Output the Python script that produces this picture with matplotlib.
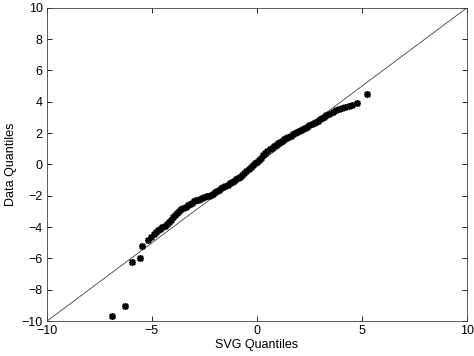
import numpy as np
import matplotlib
matplotlib.use("Agg")
from matplotlib import pyplot as plt

# quantile pairs (theoretical SVG quantiles vs data quantiles)
svg_q = [-6.90, -6.27, -5.94, -5.56, -5.45, -5.20, -5.05, -4.90, -4.80, -4.70,
         -4.60, -4.50, -4.40, -4.30, -4.20, -4.10,
         -4.0, -3.9, -3.8, -3.7, -3.6, -3.5, -3.4, -3.3, -3.2, -3.1,
         -3.0, -2.9, -2.8, -2.7, -2.6, -2.5, -2.4, -2.3, -2.2, -2.1,
         -2.0, -1.9, -1.8, -1.7, -1.6, -1.5, -1.4, -1.3, -1.2, -1.1,
         -1.0, -0.9, -0.8, -0.7, -0.6, -0.5, -0.4, -0.3, -0.2, -0.1,
         0.0, 0.1, 0.2, 0.3, 0.4, 0.5, 0.6, 0.7, 0.8, 0.9,
         1.0, 1.1, 1.2, 1.3, 1.4, 1.5, 1.6, 1.7, 1.8, 1.9,
         2.0, 2.1, 2.2, 2.3, 2.4, 2.5, 2.6, 2.7, 2.8, 2.9,
         3.0, 3.1, 3.2, 3.3,
         3.45, 3.60, 3.75, 3.90, 4.05, 4.20, 4.40, 4.55, 4.75, 5.22]

data_q = [-9.68, -9.06, -6.20, -5.97, -5.20, -4.85, -4.65, -4.45, -4.30, -4.20,
          -4.10, -4.00, -3.90, -3.80, -3.68, -3.52,
          -3.38, -3.24, -3.10, -2.95, -2.85, -2.77, -2.69, -2.61, -2.52, -2.43,
          -2.36, -2.30, -2.24, -2.19, -2.14, -2.09, -2.04, -1.99, -1.93, -1.86,
          -1.78, -1.70, -1.62, -1.53, -1.44, -1.36, -1.28, -1.19, -1.11, -1.03,
          -0.95, -0.86, -0.77, -0.65, -0.53, -0.40, -0.27, -0.15, -0.03, 0.08,
          0.18, 0.31, 0.44, 0.58, 0.72, 0.86, 0.97, 1.07, 1.16, 1.26,
          1.35, 1.44, 1.53, 1.61, 1.69, 1.77, 1.84, 1.92, 1.99, 2.07,
          2.15, 2.22, 2.29, 2.36, 2.42, 2.49, 2.56, 2.63, 2.71, 2.79,
          2.88, 2.97, 3.06, 3.14,
          3.25, 3.33, 3.45, 3.52, 3.60, 3.68, 3.74, 3.82, 3.91, 4.52]

ref_line = [-10, 10]
ticks = [-10, -8, -6, -4, -2, 0, 2, 4, 6, 8, 10]
xticks = [-10, -5, 0, 5, 10]

plt.rcParams['font.family'] = ['Liberation Sans', 'DejaVu Sans']
plt.rcParams['font.size'] = 9

fig = plt.figure(figsize=(4.74, 3.56), dpi=100)
ax = fig.add_axes([0.099, 0.098, 0.886, 0.88])

ax.plot(ref_line, ref_line, color='#404040', linewidth=0.6)
ax.plot(svg_q, data_q, linestyle='none', marker=(8, 2, 0), markersize=5,
        markeredgewidth=1.1, color='black')

ax.set_xlim(-10, 10)
ax.set_ylim(-10, 10)
ax.set_xticks(xticks)
ax.set_yticks(ticks)
ax.tick_params(direction='in', length=3.5, width=0.6, top=True, right=True,
               pad=3, colors='black')
for s in ax.spines.values():
    s.set_linewidth(0.6)
    s.set_color('#404040')

ax.set_xlabel('SVG Quantiles', labelpad=1)
ax.set_ylabel('Data Quantiles', labelpad=3)

plt.savefig("out.png", dpi=100)
plt.close(fig)
